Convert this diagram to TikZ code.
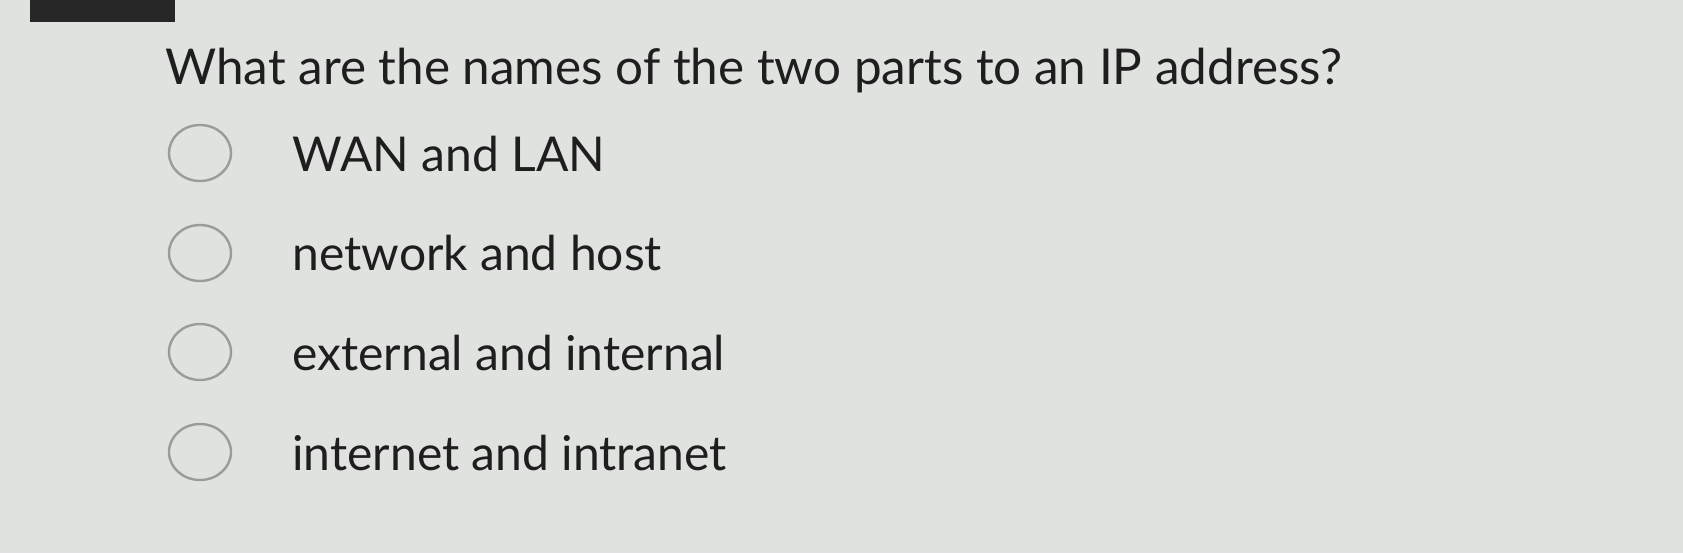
\documentclass[tikz,border=0pt]{standalone}
\usepackage{fontspec}
\usetikzlibrary{shapes.geometric}
\setmainfont{Lato}
\definecolor{bg}{HTML}{DFE2DF}
\definecolor{txt}{HTML}{1E1E1E}
\definecolor{ring}{HTML}{9A9C9A}
\begin{document}
\begin{tikzpicture}[x=0.5pt,y=-0.5pt,
  opt/.style={anchor=base west,text=txt,font=\fontsize{24}{28}\selectfont,inner sep=0pt},
  radio/.style={draw=ring,line width=1.2pt,ellipse,minimum width=31pt,minimum height=28pt,inner sep=0pt}]
\useasboundingbox (0,0) rectangle (1683,553);
\fill[bg] (0,0) rectangle (1683,553);
\fill[black!85] (30,0) rectangle (175,22);
\node[anchor=base west,text=txt,font=\fontsize{24.7}{29}\selectfont,inner sep=0pt] (q) at (165,84) {What are the names of the two parts to an IP address?};
\node[radio] (r1) at (200,153) {};
\node[radio] (r2) at (200,253) {};
\node[radio] (r3) at (200,352) {};
\node[radio] (r4) at (200,452) {};
\node[opt] (o1) at (292,171) {WAN and LAN};
\node[opt] (o2) at (292,270) {network and host};
\node[opt] (o3) at (292,370) {external and internal};
\node[opt] (o4) at (292,470) {internet and intranet};
\end{tikzpicture}
\end{document}
